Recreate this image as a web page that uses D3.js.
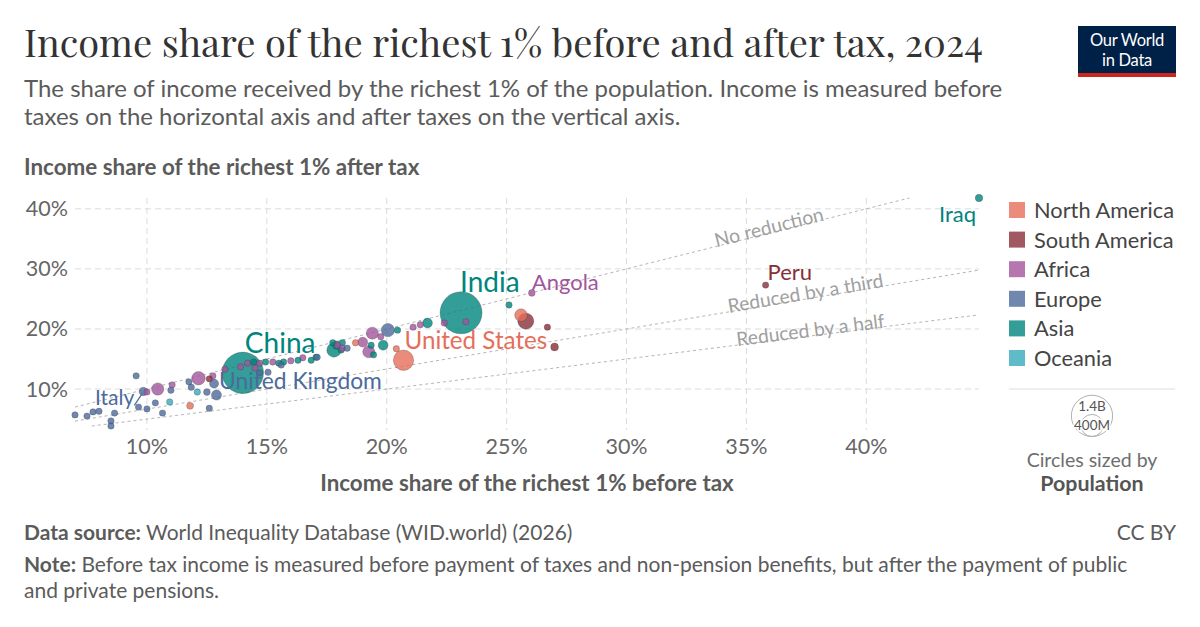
<!DOCTYPE html>
<html><head><meta charset="utf-8">
<script src="https://cdn.jsdelivr.net/npm/d3@7"></script>
<style>
body{margin:0;background:#fff;}
svg{font-family:Lato, 'Noto Sans', sans-serif;}
</style></head><body>
<svg id="c" width="1200" height="627"></svg>
<script>
// ---------- DATA ----------
const regions = ["North America","South America","Africa","Europe","Asia","Oceania"];
const regionColors = ["#e56e5a","#883039","#a2559c","#4c6a9c","#00847e","#38aaba"];

// each point: region index, before-tax share (%), after-tax share (%), population (millions)
const countries = [
  "","","","","","","","","Italy","","","","","","","","","","","United Kingdom","","","","","","",
  "","","","","","","","","","","","","","","","","","","","","","","","Angola",
  "China","India","Iraq","","","","","","","","","","","","","","","","","","",
  "United States","","","","",
  "Peru","","","","",
  "",""
];
const pointRegion = [
  3,3,3,3,3,3,3,3,3,3,3,3,3,3,3,3,3,3,3,3,3,3,3,3,3,3,
  2,2,2,2,2,2,2,2,2,2,2,2,2,2,2,2,2,2,2,2,2,2,2,2,
  4,4,4,4,4,4,4,4,4,4,4,4,4,4,4,4,4,4,4,4,4,
  0,0,0,0,0,
  1,1,1,1,1,
  5,5
];
const beforeTax = [
  7.0,7.5,7.75,8.0,8.65,8.5,8.5,9.55,9.85,9.65,10.0,10.35,10.65,11.0,11.75,11.85,12.5,12.9,12.6,12.8,14.7,15.05,15.6,17.1,18.35,20.05,
  10.0,10.45,11.05,12.15,12.75,13.25,13.9,14.2,14.5,14.7,15.25,16.0,16.5,17.95,18.15,19.0,19.4,19.25,19.75,21.1,21.4,22.4,23.3,26.05,
  14.0,23.1,44.7,14.45,14.95,15.5,15.7,16.3,16.85,17.05,17.8,17.75,18.15,17.9,18.1,19.35,19.85,19.45,20.45,21.7,25.1,
  20.7,18.7,20.4,25.6,11.8,
  35.8,25.8,26.7,27.0,12.6,
  12.1,10.95
];
const afterTax = [
  5.7,5.5,6.2,6.3,6.0,4.7,3.85,12.2,9.6,7.0,6.7,7.7,6.0,9.8,11.2,10.3,9.5,9.0,6.8,10.9,12.7,12.8,14.0,15.3,16.8,19.8,
  9.5,10.0,10.7,11.8,12.2,13.3,13.7,14.3,13.5,14.3,14.5,14.7,15.2,17.3,16.8,17.8,19.3,16.2,18.7,20.3,20.7,21.0,21.2,26.0,
  12.7,22.7,41.8,14.5,14.5,14.3,14.5,14.8,14.8,15.3,16.5,17.7,17.7,17.3,16.5,17.3,17.3,15.7,19.8,21.0,24.0,
  14.8,17.7,16.7,22.3,7.2,
  27.3,21.3,20.3,17.0,11.7,
  9.5,7.85
];
const population = [
  5,10,18,5,6,5,5,8,59,10,5,9,4,6,10,10,38,84,10,68,10,20,5,8,8,144,
  10,125,20,150,15,20,15,15,10,20,15,10,15,15,10,80,120,120,15,15,10,10,15,37,
  1410,1450,46,10,15,10,20,10,15,10,170,30,25,60,20,10,80,20,20,80,10,
  340,10,15,130,40,
  34,212,20,50,10,
  27,5
];
const xTicks = [10,15,20,25,30,35,40];
const yTicks = [10,20,30,40];
const refLines = [
  {factor:1, label:"No reduction", at:36.0},
  {factor:2/3, label:"Reduced by a third", at:37.5},
  {factor:1/2, label:"Reduced by a half", at:37.7}
];
const sizeLegend = [{pop:1400, label:"1.4B"},{pop:400, label:"400M"}];

// ---------- SETUP ----------
const svg = d3.select("#c");
svg.append("rect").attr("width",1200).attr("height",627).attr("fill","#fff");

// Title & subtitle
svg.append("text").attr("x",24).attr("y",57)
  .attr("font-family","'Playfair Display','Liberation Serif','DejaVu Serif',serif")
  .attr("font-size",37).attr("fill","#333")
  .attr("textLength",959).attr("lengthAdjust","spacingAndGlyphs")
  .text("Income share of the richest 1% before and after tax, 2024");
const sub = ["The share of income received by the richest 1% of the population. Income is measured before",
             "taxes on the horizontal axis and after taxes on the vertical axis."];
sub.forEach((s,i)=>svg.append("text").attr("x",24).attr("y",97+i*28)
  .attr("font-size",24).attr("fill","#5b5b5b").text(s));

// Logo
const logo = svg.append("g");
logo.append("rect").attr("x",1078).attr("y",26).attr("width",98).attr("height",51).attr("fill","#002147");
logo.append("rect").attr("x",1078).attr("y",73).attr("width",98).attr("height",4).attr("fill","#ce261e");
logo.append("text").attr("x",1127).attr("y",46).attr("text-anchor","middle").attr("fill","#fff")
  .attr("font-size",16.5).attr("letter-spacing",-0.3).text("Our World");
logo.append("text").attr("x",1127).attr("y",66).attr("text-anchor","middle").attr("fill","#fff")
  .attr("font-size",16.5).attr("letter-spacing",-0.3).text("in Data");

// Axis titles
svg.append("text").attr("x",24).attr("y",175).attr("font-size",22.4).attr("font-weight",700)
  .attr("fill","#5b5b5b").text("Income share of the richest 1% after tax");

// Scales
const x = d3.scaleLinear().domain(d3.extent(beforeTax)).range([75,979]);
const y = d3.scaleLinear().domain(d3.extent(afterTax)).range([426,198]);
const r = d3.scaleSqrt().domain([0,1450]).range([0,21]);
const rad = p => Math.max(3.2, r(p));
const color = d3.scaleOrdinal().domain(regions).range(regionColors);

svg.append("text").attr("x",(x.range()[0]+x.range()[1])/2).attr("y",491).attr("text-anchor","middle")
  .attr("font-size",22.4).attr("font-weight",700).attr("fill","#5b5b5b")
  .text("Income share of the richest 1% before tax");

// Gridlines
const grid = svg.append("g").attr("stroke","#dcdcdc").attr("stroke-dasharray","6,4").attr("stroke-width",1);
yTicks.forEach(t=>grid.append("line").attr("x1",x.range()[0]).attr("x2",x.range()[1]).attr("y1",y(t)).attr("y2",y(t)));
xTicks.forEach(t=>grid.append("line").attr("x1",x(t)).attr("x2",x(t)).attr("y1",y.range()[1]).attr("y2",y.range()[0]+4));

yTicks.forEach(t=>svg.append("text").attr("x",68).attr("y",y(t)+7.5).attr("text-anchor","end")
  .attr("font-size",21.5).attr("fill","#666").text(t+"%"));
xTicks.forEach(t=>svg.append("text").attr("x",x(t)).attr("y",454).attr("text-anchor","middle")
  .attr("font-size",21.5).attr("fill","#666").text(t+"%"));

// Reference lines
const [xmin,xmax] = x.domain(), [ymin,ymax] = y.domain();
refLines.forEach(l=>{
  const f = l.factor;
  const a = Math.max(xmin, ymin/f), b = Math.min(xmax, ymax/f);
  svg.append("line").attr("x1",x(a)).attr("y1",y(f*a)).attr("x2",x(b)).attr("y2",y(f*b))
    .attr("stroke","#b5b5b5").attr("stroke-dasharray","3,3").attr("stroke-width",1);
  const px = x(l.at), py = y(f*l.at);
  const ang = Math.atan2(y(f*(l.at+1))-py, x(l.at+1)-px)*180/Math.PI;
  svg.append("text").attr("transform",`translate(${px},${py}) rotate(${ang})`)
    .attr("text-anchor","middle").attr("dy",1).attr("font-size",19.3).attr("fill","#a0a0a0").text(l.label);
});

// Points
const pts = beforeTax.map((b,i)=>({name:countries[i], region:regions[pointRegion[i]], bx:b, ay:afterTax[i], pop:population[i]}));
pts.sort((a,b)=>b.pop-a.pop);
svg.append("g").selectAll("circle").data(pts).join("circle")
  .attr("cx",d=>x(d.bx)).attr("cy",d=>y(d.ay)).attr("r",d=>rad(d.pop))
  .attr("fill",d=>color(d.region)).attr("fill-opacity",0.8)
  .attr("stroke","#333").attr("stroke-opacity",0.45).attr("stroke-width",0.6);

// Labels
const labelStyle = {
  "Iraq":{dx:-3,dy:24,anchor:"end",size:22,col:"#00847e"},
  "Peru":{dx:2,dy:-5,anchor:"start",size:22,col:"#883039"},
  "India":{dx:-1,dy:-21,anchor:"start",size:28,col:"#00847e"},
  "Angola":{dx:0,dy:-3,anchor:"start",size:22,col:"#a2559c"},
  "China":{dx:2,dy:-20,anchor:"start",size:28,col:"#00847e"},
  "United States":{dx:1,dy:-11,anchor:"start",size:24.2,col:"#e56e5a"},
  "United Kingdom":{dx:5,dy:5,anchor:"start",size:22.8,col:"#4c6a9c"},
  "Italy":{dx:-9,dy:14,anchor:"end",size:21,col:"#4c6a9c"}
};
pts.filter(d=>d.name).forEach(d=>{
  const s = labelStyle[d.name];
  const px = x(d.bx), py = y(d.ay);
  if (d.name==="Italy") {
    svg.append("line").attr("x1",px-9).attr("y1",py+14).attr("x2",px-1).attr("y2",py+2)
      .attr("stroke","#4c6a9c").attr("stroke-width",1.2);
  }
  svg.append("text").attr("x",px+s.dx).attr("y",py+s.dy).attr("text-anchor",s.anchor)
    .attr("font-size",s.size).attr("fill",s.col).text(d.name);
});

// Legend
regions.forEach((g,i)=>{
  const cy = 210 + i*29.6;
  svg.append("rect").attr("x",1009).attr("y",cy-8).attr("width",16).attr("height",16)
    .attr("fill",color(g)).attr("fill-opacity",0.8);
  svg.append("text").attr("x",1034).attr("y",cy+8).attr("font-size",21.8).attr("fill","#444").text(g);
});
svg.append("line").attr("x1",1009).attr("x2",1175).attr("y1",389).attr("y2",389).attr("stroke","#ddd");

// Size legend
const base = 436.5, cxL = 1092;
sizeLegend.forEach(s=>{
  const rr = r(s.pop);
  svg.append("circle").attr("cx",cxL).attr("cy",base-rr).attr("r",rr)
    .attr("fill","none").attr("stroke","#b0b0b0").attr("stroke-width",1);
});
sizeLegend.forEach(s=>{
  const rr = r(s.pop);
  svg.append("text").attr("x",cxL).attr("y",base-2*rr+16).attr("text-anchor","middle")
    .attr("font-size",13.5).attr("fill","#555").attr("stroke","#fff").attr("stroke-width",3)
    .attr("paint-order","stroke").text(s.label);
});
svg.append("text").attr("x",cxL).attr("y",467).attr("text-anchor","middle").attr("font-size",19.5)
  .attr("fill","#6e6e6e").text("Circles sized by");
svg.append("text").attr("x",cxL).attr("y",491).attr("text-anchor","middle").attr("font-size",21.4)
  .attr("font-weight",700).attr("fill","#555").text("Population");

// Footer
const src = svg.append("text").attr("x",24).attr("y",540).attr("font-size",21).attr("fill","#5b5b5b");
src.append("tspan").attr("font-weight",700).text("Data source:");
src.append("tspan").text(" World Inequality Database (WID.world) (2026)");
svg.append("text").attr("x",1176).attr("y",540).attr("text-anchor","end").attr("font-size",21)
  .attr("fill","#5b5b5b").text("CC BY");
const note = svg.append("text").attr("x",24).attr("y",572).attr("font-size",21).attr("fill","#5b5b5b");
note.append("tspan").attr("font-weight",700).text("Note:");
note.append("tspan").text(" Before tax income is measured before payment of taxes and non-pension benefits, but after the payment of public");
svg.append("text").attr("x",24).attr("y",598).attr("font-size",21).attr("fill","#5b5b5b").text("and private pensions.");
</script>
</body></html>
